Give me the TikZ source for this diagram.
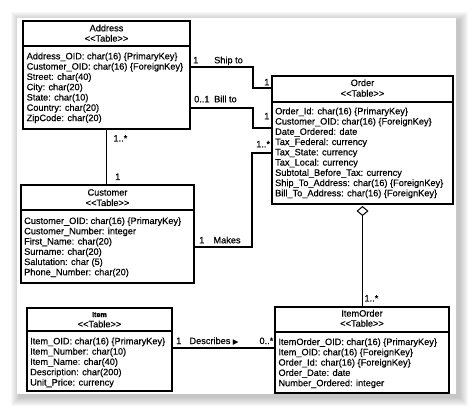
\documentclass[tikz,border=0pt]{standalone}
\usepackage{fontspec}
\setmainfont{Liberation Sans}[FakeBold=0.4,BoldFeatures={FakeBold=1.2}]
\newfontfamily\symfont{DejaVu Sans}
\usetikzlibrary{calc,arrows.meta}
\tikzset{
  txt/.style={font=\fontsize{9.2}{11}\selectfont, inner sep=0pt, text=black},
  tbl/.style={draw=black, line width=1.5pt, inner sep=0pt, outer sep=0pt, anchor=north west, fill=white},
  div/.style={draw=black, line width=1.2pt},
  conn/.style={draw=black, line width=1.1pt},
  lbl/.style={txt, anchor=base west},
}
\begin{document}
\begin{tikzpicture}[x=1pt,y=-1pt]
\useasboundingbox (0,0) rectangle (474,414);
% shadowed panel
\foreach \k in {1,...,9}{
  \fill[black,opacity=0.028] (20-\k,21-\k) rectangle (459+\k,397+\k);
}
\fill[white] (17,18) rectangle (456,394);

% ---------- Address ----------
\node[tbl, minimum width=167pt, minimum height=108pt] (address) at (23,21) {};
\draw[div] ($(address.north west)+(0,25)$) -- ($(address.north east)+(0,25)$);
\node[txt, anchor=base] (address-t1) at (106.5,31.3) {Address};
\node[txt, anchor=base] (address-t2) at (106.5,41.6) {<{}<Table>{}>};
\foreach [count=\i] \t in {Address\_OID: char(16) \{PrimaryKey\},
  Customer\_OID: char(16) \{ForeignKey\}, Street: char(40), City: char(20),
  State: char(10), Country: char(20), ZipCode: char(20)}{
  \node[lbl] (address-a\i) at (26.5,{59.3+(\i-1)*10.3}) {\t};
}

% ---------- Order ----------
\node[tbl, minimum width=181pt, minimum height=128pt] (order) at (272,76) {};
\draw[div] ($(order.north west)+(0,26)$) -- ($(order.north east)+(0,26)$);
\node[txt, anchor=base] (order-t1) at (362.5,86) {Order};
\node[txt, anchor=base] (order-t2) at (362.5,96.6) {<{}<Table>{}>};
\foreach [count=\i] \t in {Order\_Id: char(16) \{PrimaryKey\},
  Customer\_OID: char(16) \{ForeignKey\}, Date\_Ordered: date,
  Tax\_Federal: currency, Tax\_State: currency, Tax\_Local: currency,
  Subtotal\_Before\_Tax: currency, Ship\_To\_Address: char(16) \{ForeignKey\},
  Bill\_To\_Address: char(16) \{ForeignKey\}}{
  \node[lbl] (order-a\i) at (275,{114.3+(\i-1)*10.25}) {\t};
}

% ---------- Customer ----------
\node[tbl, minimum width=173pt, minimum height=98pt] (customer) at (21,185) {};
\draw[div] ($(customer.north west)+(0,25)$) -- ($(customer.north east)+(0,25)$);
\node[txt, anchor=base] (customer-t1) at (107.5,195.6) {Customer};
\node[txt, anchor=base] (customer-t2) at (107.5,206) {<{}<Table>{}>};
\foreach [count=\i] \t in {Customer\_OID: char(16) \{PrimaryKey\},
  Customer\_Number: integer, First\_Name: char(20), Surname: char(20),
  Salutation: char (5), Phone\_Number: char(20)}{
  \node[lbl] (customer-a\i) at (24,{224+(\i-1)*10.25}) {\t};
}

% ---------- Item ----------
\node[tbl, minimum width=145pt, minimum height=83pt] (item) at (27,308) {};
\draw[div] ($(item.north west)+(0,23)$) -- ($(item.north east)+(0,23)$);
\node[txt, anchor=base, font=\fontsize{7.2}{9}\selectfont\bfseries] (item-t1) at (99.5,317) {Item};
\node[txt, anchor=base] (item-t2) at (99.5,327.3) {<{}<Table>{}>};
\foreach [count=\i] \t in {Item\_OID: char(16) \{PrimaryKey\},
  Item\_Number: char(10), Item\_Name: char(40), Description: char(200),
  Unit\_Price: currency}{
  \node[lbl] (item-a\i) at (30,{344.3+(\i-1)*10.3}) {\t};
}

% ---------- ItemOrder ----------
\node[tbl, minimum width=174pt, minimum height=86pt] (itemorder) at (275,307) {};
\draw[div] ($(itemorder.north west)+(0,25)$) -- ($(itemorder.north east)+(0,25)$);
\node[txt, anchor=base] (itemorder-t1) at (362,316.6) {ItemOrder};
\node[txt, anchor=base] (itemorder-t2) at (362,326.6) {<{}<Table>{}>};
\foreach [count=\i] \t in {ItemOrder\_OID: char(16) \{PrimaryKey\},
  Item\_OID: char(16) \{ForeignKey\}, Order\_Id: char(16) \{ForeignKey\},
  Order\_Date: date, Number\_Ordered: integer}{
  \node[lbl] (itemorder-a\i) at (278.3,{345+(\i-1)*10.3}) {\t};
}

% ---------- connectors ----------
\coordinate (ship1) at ($(address.north east)+(0,46)$);
\coordinate (ship2) at ($(order.north west)+(0,12)$);
\draw[conn] (ship1) -| ([xshift=-19pt]ship2) -- (ship2);
\coordinate (bill1) at ($(address.north east)+(0,87)$);
\coordinate (bill2) at ($(order.north west)+(0,52)$);
\draw[conn] (bill1) -| ([xshift=-19pt]bill2) -- (bill2);
\coordinate (mk1) at ($(customer.north east)+(0,62)$);
\coordinate (mk2) at ($(order.north west)+(0,77)$);
\draw[conn] (mk1) -| ([xshift=-20pt]mk2) -- (mk2);
\draw[conn] (address.south) -- (address.south |- customer.north);
\draw[conn, -{Diamond[open, length=10pt, width=12pt, line width=1pt]}, shorten >=2pt]
  (itemorder.north -| order.south) -- (order.south);
\coordinate (ds1) at ($(item.north east)+(0,40)$);
\draw[conn] (ds1) -- (ds1 -| itemorder.west);

% ---------- labels ----------
\node[lbl] (l-ship1) at (193,63.3) {1};
\node[lbl] (l-ship) at (214,63.3) {Ship to};
\node[lbl] (l-ship2) at (264,85.3) {1};
\node[lbl] (l-bill1) at (194,102.3) {0..1};
\node[lbl] (l-bill) at (214,102.3) {Bill to};
\node[lbl] (l-bill2) at (264,119.3) {1};
\node[lbl] (l-mk2) at (256,147.3) {1..*};
\node[lbl] (l-mk1) at (199,243.3) {1};
\node[lbl] (l-mk) at (213.3,243.3) {Makes};
\node[lbl] (l-ac1) at (113.3,141.5) {1..*};
\node[lbl] (l-ac2) at (115,180) {1};
\node[lbl] (l-oi) at (364.3,301.5) {1..*};
\node[lbl] (l-ds1) at (176,344) {1};
\node[lbl] (l-ds) at (189.3,344) {Describes {\symfont\fontsize{7.5}{9}\selectfont ▶}};
\node[lbl] (l-ds2) at (259.3,344) {0..*};
\end{tikzpicture}
\end{document}
